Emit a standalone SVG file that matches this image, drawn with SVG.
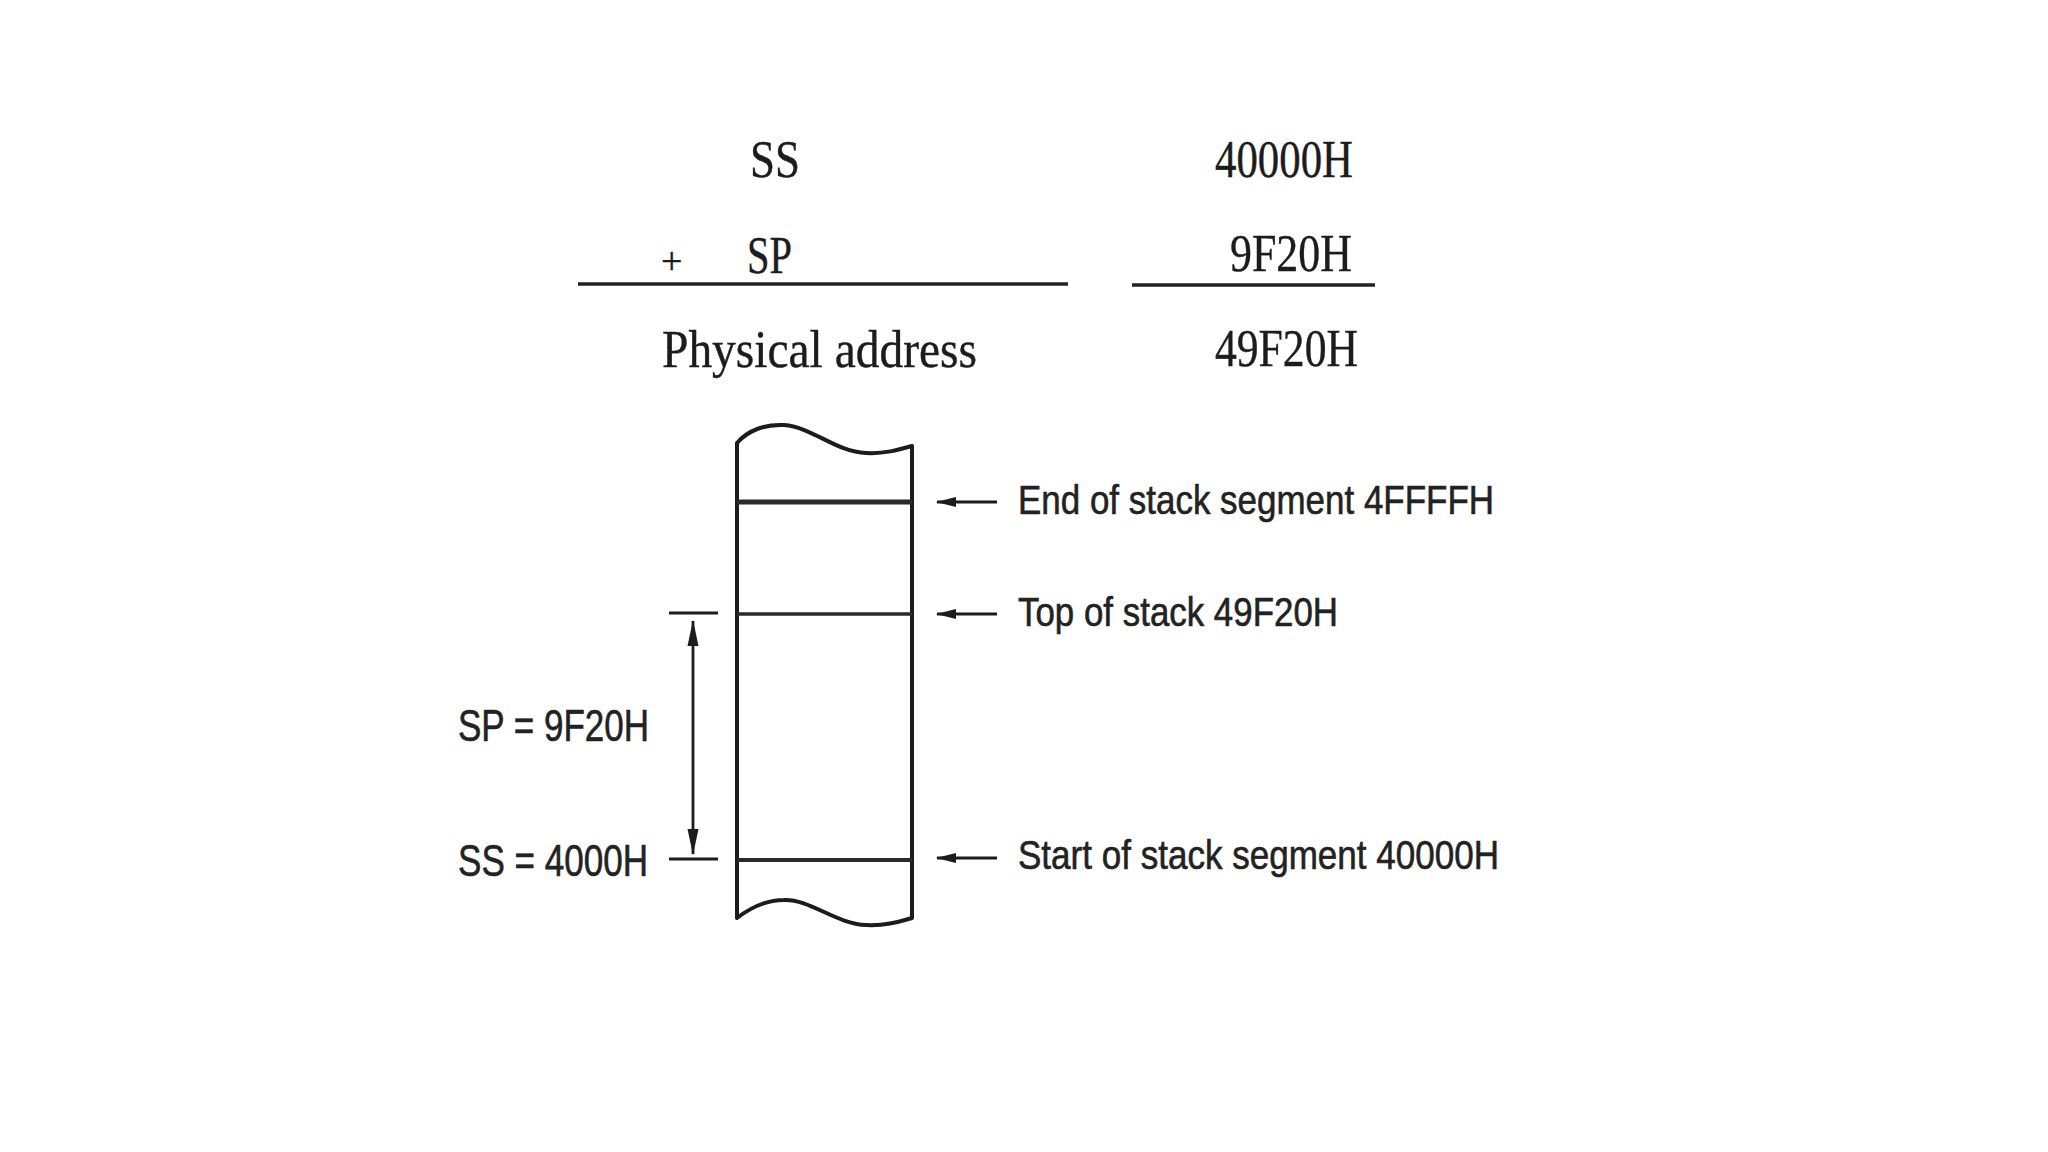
<svg xmlns="http://www.w3.org/2000/svg" width="2048" height="1152" viewBox="0 0 2048 1152">
<defs>
<style>
.serif{font-family:"Liberation Serif","Times New Roman",serif;font-size:53px;fill:#1c1c1c;stroke:#1c1c1c;stroke-width:0.4}
.sans{font-family:"Liberation Sans",Arial,sans-serif;font-size:41px;fill:#222;stroke:#222;stroke-width:0.6}
.rule{stroke:#222;stroke-width:3.5;fill:none}
.wall{stroke:#1c1c1c;stroke-width:4;fill:none;stroke-linejoin:round}
.lvl{stroke:#2a2a2a;fill:none}
.conn{stroke:#1c1c1c;stroke-width:2.8;fill:none}
</style>
<marker id="ah" markerUnits="userSpaceOnUse" markerWidth="20" markerHeight="12" viewBox="0 0 20 12" refX="19" refY="6" orient="auto">
<path d="M0,1 L20,6 L0,11 z" fill="#1c1c1c"/>
</marker>
<marker id="ahLong" markerUnits="userSpaceOnUse" markerWidth="26" markerHeight="12" viewBox="0 0 26 12" refX="25" refY="6" orient="auto">
<path d="M0,0.5 L26,6 L0,11.5 z" fill="#1c1c1c"/>
</marker>
</defs>
<rect width="2048" height="1152" fill="#ffffff"/>

<g id="sum">
<text class="serif" x="750" y="177" textLength="50" lengthAdjust="spacingAndGlyphs">SS</text>
<text class="serif" x="661" y="274" style="font-size:38px">+</text>
<text class="serif" x="747" y="273" textLength="45" lengthAdjust="spacingAndGlyphs">SP</text>
<line class="rule" x1="578" y1="284" x2="1068" y2="284"/>
<text class="serif" x="662" y="367" textLength="315" lengthAdjust="spacingAndGlyphs">Physical  address</text>
<text class="serif" x="1215" y="177" textLength="138" lengthAdjust="spacingAndGlyphs">40000H</text>
<text class="serif" x="1230" y="271" textLength="122" lengthAdjust="spacingAndGlyphs">9F20H</text>
<line class="rule" x1="1132" y1="285" x2="1375" y2="285"/>
<text class="serif" x="1215" y="366" textLength="143" lengthAdjust="spacingAndGlyphs">49F20H</text>
</g>

<g id="stack">
<path class="wall" d="M737 443 C748 430,766 424,784 425 C812 427,836 452,866 453 C884 454,898 450,912 446 L912 918 C898 922,885 926,866 925 C836 924,810 899,784 900 C765 900,750 908,737 918 Z"/>
<line class="lvl" x1="737" y1="502" x2="912" y2="502" stroke-width="5"/>
<line class="lvl" x1="737" y1="614" x2="912" y2="614" stroke-width="3.5"/>
<line class="lvl" x1="737" y1="860" x2="912" y2="860" stroke-width="4"/>
</g>

<g id="label-end">
<text class="sans" x="1018" y="514" textLength="476" lengthAdjust="spacingAndGlyphs">End of stack segment 4FFFFH</text>
</g>
<g id="label-top">
<text class="sans" x="1018" y="626" textLength="320" lengthAdjust="spacingAndGlyphs">Top of stack 49F20H</text>
</g>
<g id="label-start">
<text class="sans" x="1018" y="869" textLength="481" lengthAdjust="spacingAndGlyphs">Start of stack segment 40000H</text>
</g>
<g id="label-sp">
<text class="sans" x="458" y="741" textLength="191" lengthAdjust="spacingAndGlyphs" style="font-size:44px">SP = 9F20H</text>
</g>
<g id="label-ss">
<text class="sans" x="458" y="876" textLength="190" lengthAdjust="spacingAndGlyphs" style="font-size:44px">SS = 4000H</text>
</g>

<g id="connectors">
<line class="conn" x1="997" y1="502" x2="937" y2="502" marker-end="url(#ah)"/>
<line class="conn" x1="997" y1="614" x2="937" y2="614" marker-end="url(#ah)"/>
<line class="conn" x1="997" y1="858" x2="937" y2="858" marker-end="url(#ah)"/>
<line class="conn" x1="669" y1="613" x2="718" y2="613" stroke-width="3"/>
<line class="conn" x1="669" y1="859" x2="718" y2="859" stroke-width="3"/>
<line class="conn" x1="693" y1="640" x2="693" y2="621" marker-end="url(#ahLong)"/>
<line class="conn" x1="693" y1="640" x2="693" y2="854" marker-end="url(#ahLong)"/>
</g>
</svg>
